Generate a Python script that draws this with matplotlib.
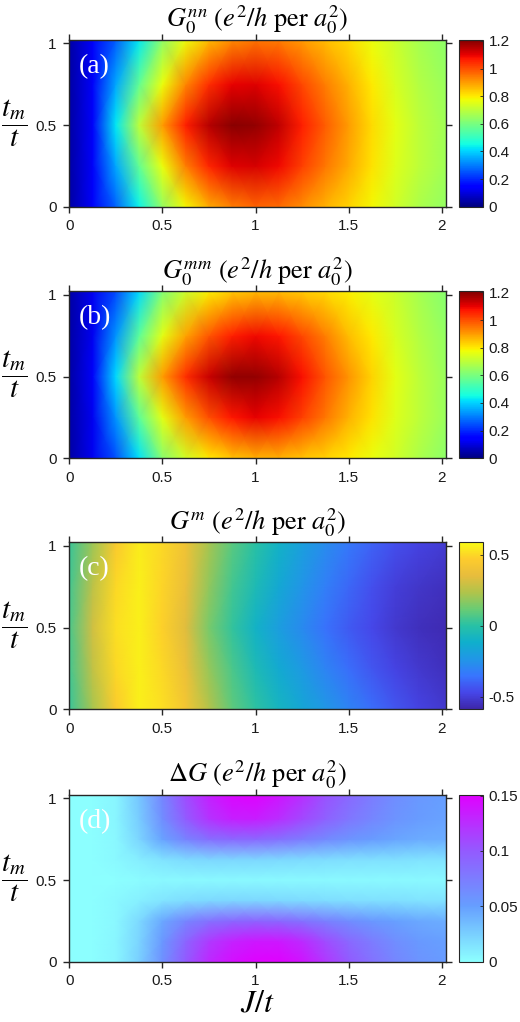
import numpy as np
import matplotlib
matplotlib.use("Agg")
import matplotlib.pyplot as plt
from matplotlib.colors import LinearSegmentedColormap
from matplotlib.ticker import FuncFormatter

plt.rcParams['font.family'] = ['Liberation Sans', 'DejaVu Sans']
plt.rcParams['mathtext.fontset'] = 'stix'

# grid of the maps
J = [0.0, 0.125, 0.25, 0.375, 0.5, 0.625, 0.75, 0.875, 1.0,
     1.125, 1.25, 1.375, 1.5, 1.625, 1.75, 1.875, 2.0]
tm5 = [0.0, 0.25, 0.5, 0.75, 1.0]
tm9 = [0.0, 0.125, 0.25, 0.375, 0.5, 0.625, 0.75, 0.875, 1.0]

# (a) G0^nn, rows from tm=0 to tm=1
G_nn = [
    [0.04, 0.13, 0.27, 0.44, 0.64, 0.78, 0.88, 0.94, 0.97, 0.96, 0.92, 0.87, 0.83, 0.78, 0.73, 0.68, 0.64],
    [0.04, 0.13, 0.35, 0.57, 0.77, 0.94, 1.05, 1.11, 1.12, 1.09, 1.02, 0.95, 0.88, 0.81, 0.75, 0.70, 0.66],
    [0.04, 0.13, 0.43, 0.70, 0.90, 1.06, 1.15, 1.20, 1.19, 1.14, 1.06, 0.98, 0.90, 0.82, 0.76, 0.70, 0.66],
    [0.04, 0.13, 0.35, 0.57, 0.77, 0.93, 1.04, 1.10, 1.11, 1.08, 1.01, 0.94, 0.87, 0.80, 0.74, 0.69, 0.65],
    [0.04, 0.13, 0.26, 0.43, 0.63, 0.77, 0.86, 0.92, 0.95, 0.94, 0.90, 0.86, 0.82, 0.77, 0.72, 0.67, 0.63],
]

# (b) G0^mm
G_mm = [
    [0.04, 0.12, 0.25, 0.42, 0.62, 0.73, 0.80, 0.85, 0.87, 0.87, 0.85, 0.83, 0.80, 0.77, 0.73, 0.68, 0.63],
    [0.04, 0.12, 0.33, 0.56, 0.76, 0.90, 1.00, 1.07, 1.10, 1.08, 1.02, 0.95, 0.87, 0.81, 0.75, 0.70, 0.65],
    [0.04, 0.13, 0.41, 0.70, 0.90, 1.04, 1.13, 1.19, 1.19, 1.15, 1.08, 0.99, 0.91, 0.83, 0.76, 0.70, 0.65],
    [0.04, 0.12, 0.33, 0.56, 0.76, 0.89, 0.99, 1.06, 1.09, 1.07, 1.01, 0.94, 0.86, 0.80, 0.74, 0.69, 0.64],
    [0.04, 0.12, 0.24, 0.41, 0.61, 0.72, 0.79, 0.84, 0.86, 0.86, 0.84, 0.82, 0.79, 0.76, 0.72, 0.67, 0.62],
]

# (c) G^m
G_m = [
    [0.03, 0.22, 0.46, 0.56, 0.52, 0.42, 0.24, 0.10, 0.01, -0.08, -0.16, -0.23, -0.30, -0.37, -0.43, -0.48, -0.52],
    [0.05, 0.27, 0.50, 0.56, 0.50, 0.38, 0.19, 0.06, -0.05, -0.14, -0.22, -0.30, -0.37, -0.43, -0.48, -0.52, -0.55],
    [0.06, 0.30, 0.52, 0.56, 0.48, 0.34, 0.14, 0.02, -0.10, -0.20, -0.28, -0.36, -0.42, -0.47, -0.52, -0.55, -0.57],
    [0.05, 0.26, 0.50, 0.56, 0.49, 0.37, 0.18, 0.05, -0.05, -0.15, -0.24, -0.32, -0.39, -0.45, -0.50, -0.53, -0.55],
    [0.03, 0.20, 0.45, 0.55, 0.50, 0.40, 0.22, 0.09, 0.00, -0.10, -0.19, -0.27, -0.34, -0.40, -0.45, -0.48, -0.51],
]

# (d) Delta G, finer in tm
dG = [
    [0.0, 0.0, 0.005, 0.025, 0.060, 0.100, 0.128, 0.143, 0.150, 0.150, 0.140, 0.120, 0.100, 0.083, 0.068, 0.058, 0.052],
    [0.0, 0.0, 0.005, 0.023, 0.055, 0.092, 0.118, 0.132, 0.138, 0.137, 0.127, 0.108, 0.090, 0.075, 0.062, 0.054, 0.049],
    [0.0, 0.0, 0.004, 0.020, 0.045, 0.068, 0.083, 0.090, 0.093, 0.090, 0.082, 0.072, 0.063, 0.055, 0.049, 0.045, 0.042],
    [0.0, 0.0, 0.003, 0.008, 0.014, 0.018, 0.020, 0.021, 0.021, 0.020, 0.019, 0.018, 0.017, 0.016, 0.016, 0.015, 0.015],
    [0.0, 0.0, 0.000, 0.002, 0.003, 0.003, 0.003, 0.003, 0.003, 0.003, 0.003, 0.003, 0.003, 0.003, 0.003, 0.003, 0.003],
    [0.0, 0.0, 0.003, 0.009, 0.015, 0.019, 0.021, 0.021, 0.021, 0.020, 0.019, 0.018, 0.017, 0.016, 0.016, 0.015, 0.015],
    [0.0, 0.0, 0.004, 0.022, 0.048, 0.070, 0.085, 0.090, 0.090, 0.084, 0.075, 0.066, 0.058, 0.052, 0.047, 0.044, 0.042],
    [0.0, 0.0, 0.005, 0.027, 0.062, 0.098, 0.122, 0.133, 0.134, 0.125, 0.110, 0.095, 0.080, 0.068, 0.058, 0.052, 0.048],
    [0.0, 0.0, 0.005, 0.030, 0.068, 0.108, 0.133, 0.147, 0.150, 0.140, 0.125, 0.105, 0.090, 0.075, 0.063, 0.055, 0.050],
]

titles = [r'$G_0^{nn}\ (e^2/h\ \mathrm{per}\ a_0^2)$',
          r'$G_0^{mm}\ (e^2/h\ \mathrm{per}\ a_0^2)$',
          r'$G^{m}\ (e^2/h\ \mathrm{per}\ a_0^2)$',
          r'$\Delta G\ (e^2/h\ \mathrm{per}\ a_0^2)$']
panel_labels = ['(a)', '(b)', '(c)', '(d)']
cbar_ticks = [[0, 0.2, 0.4, 0.6, 0.8, 1.0, 1.2],
              [0, 0.2, 0.4, 0.6, 0.8, 1.0, 1.2],
              [-0.5, 0, 0.5],
              [0, 0.05, 0.1, 0.15]]
clims = [(0, 1.21), (0, 1.21), (-0.59, 0.59), (0, 0.151)]

parula = LinearSegmentedColormap.from_list('parula', [
    (0.2422, 0.1504, 0.6603), (0.2758, 0.2764, 0.9136), (0.2196, 0.4608, 0.9965),
    (0.1282, 0.5914, 0.9026), (0.0597, 0.6857, 0.8008), (0.1562, 0.7572, 0.6487),
    (0.4147, 0.8000, 0.4526), (0.6935, 0.7677, 0.2926), (0.9062, 0.7395, 0.2377),
    (0.9935, 0.7992, 0.1744), (0.9769, 0.9839, 0.0805)])
cyanmag = LinearSegmentedColormap.from_list('cyanmag', [
    (0.55, 1.0, 1.0), (0.40, 0.62, 1.0), (0.58, 0.35, 1.0), (0.88, 0.0, 1.0)])
cmaps = ['jet', 'jet', parula, cyanmag]

data = [(tm5, G_nn), (tm5, G_mm), (tm5, G_m), (tm9, dG)]

XMAX = 2.021
YMAX = 1.024
frame = '#262626'

fig = plt.figure(figsize=(5.2, 10.22), dpi=100)
bottoms = [0.7977, 0.5516, 0.3060, 0.0590]
h = 0.1636

fmt = FuncFormatter(lambda v, p: '%g' % v)

for i in range(4):
    ax = fig.add_axes([0.1333, bottoms[i], 0.7238, h])
    tm, z = data[i]
    xs = np.array(J, dtype=float)
    ys = np.array(tm, dtype=float)
    xs[-1] = XMAX
    ys[-1] = YMAX
    mesh = ax.pcolormesh(xs, ys, np.array(z), shading='gouraud', cmap=cmaps[i],
                         vmin=clims[i][0], vmax=clims[i][1], rasterized=True)
    ax.set_xlim(0, XMAX)
    ax.set_ylim(0, YMAX)
    ax.set_xticks([0, 0.5, 1, 1.5, 2])
    ax.set_yticks([0, 0.5, 1])
    ax.xaxis.set_major_formatter(fmt)
    ax.yaxis.set_major_formatter(fmt)
    ax.tick_params(direction='out', top=True, right=True, length=4, width=1,
                   labelsize=11, color=frame, labelcolor='#1a1a1a', pad=5)
    for s in ax.spines.values():
        s.set_color(frame)
        s.set_linewidth(1.0)
    ax.set_title(titles[i], fontsize=19, pad=9)
    ax.set_ylabel(r'$\dfrac{t_m}{t}$', rotation=0, fontsize=21, ha='center', va='center')
    ax.yaxis.set_label_coords(-0.148, 0.5)
    ax.text(0.024, 0.84, panel_labels[i], transform=ax.transAxes, color='white',
            fontsize=20, family='Liberation Serif', va='center', ha='left')
    if i == 3:
        ax.set_xlabel(r'$J/t$', fontsize=23, labelpad=0)

    cax = fig.add_axes([0.8827, bottoms[i], 0.0462, h])
    cb = fig.colorbar(mesh, cax=cax, ticks=cbar_ticks[i], format=fmt)
    cb.outline.set_edgecolor(frame)
    cb.outline.set_linewidth(0.8)
    cax.tick_params(direction='in', length=2, width=0.6, labelsize=11,
                    color=frame, labelcolor='#1a1a1a', pad=4)

fig.savefig('out.png', dpi=100)
